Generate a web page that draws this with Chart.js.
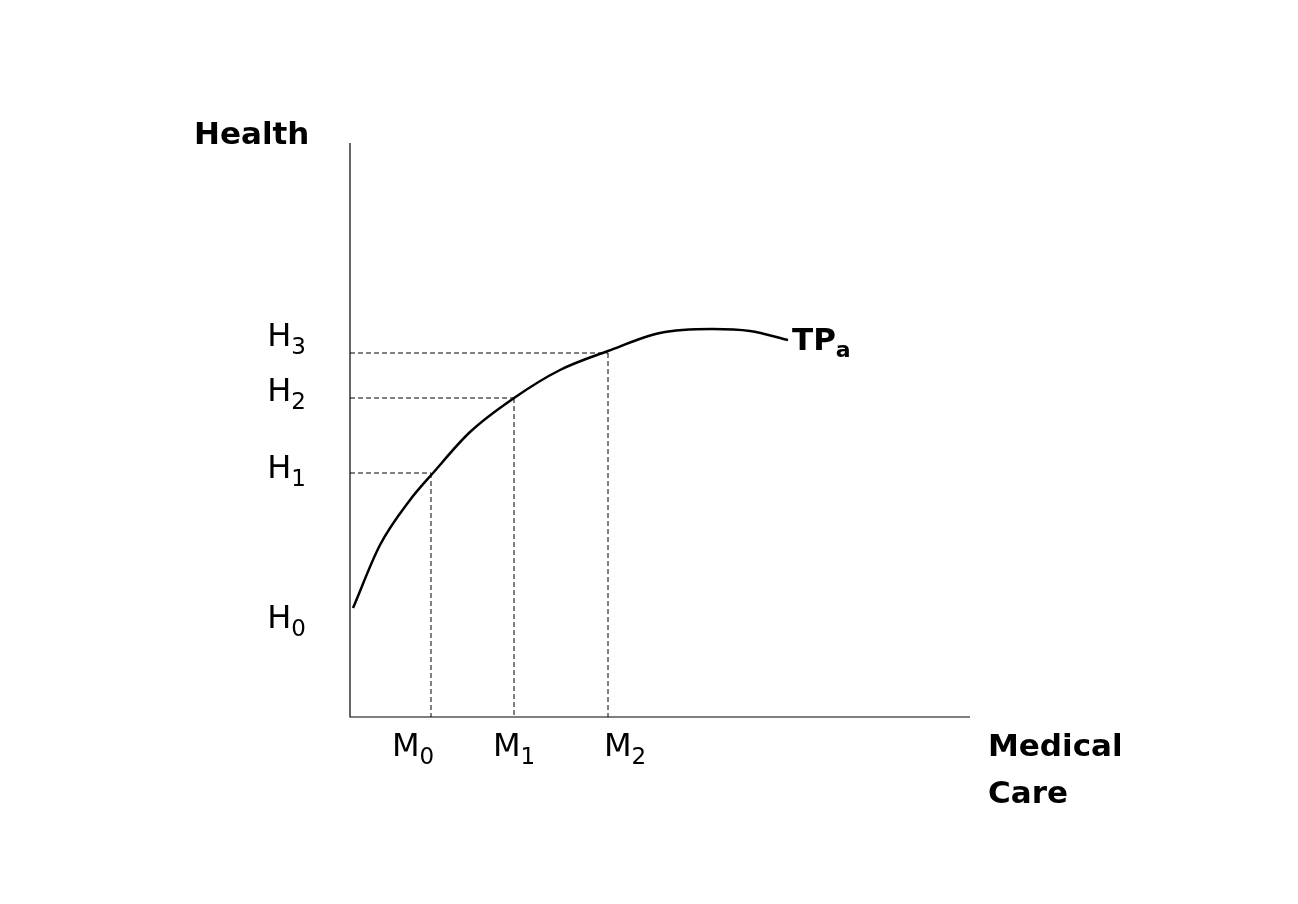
<!DOCTYPE html>
<html><head><meta charset="utf-8">
<script src="https://cdn.jsdelivr.net/npm/chart.js@4"></script>
<style>html,body{margin:0;padding:0;background:#fff}#c{display:block}</style>
</head><body>
<div style="width:1298px;height:904px"><canvas id="c"></canvas></div>
<script>
// Curve TPa (medical care, health) in diagram units
const curveX = [3, 30, 60, 83, 120, 164, 210, 258, 310, 362, 400, 438];
const curveY = [109, 172, 217, 244, 285, 319, 347, 366, 384, 388, 386, 377];
// Reference levels
const mLevels = [81, 164, 258];
const hLevels = [244, 319, 364];
const hLabels = ['H', 'H', 'H', 'H'];
const hSubs = ['0', '1', '2', '3'];
const hLabelY = [97, 247, 324, 379];
const mSubs = ['0', '1', '2'];
const mLabelX = [63, 164, 275];

const FONT = '"DejaVu Sans", Verdana, sans-serif';
function sub(ctx, x, y, main, s, size, bold, align) {
  ctx.font = (bold ? 'bold ' : '') + size + 'px ' + FONT;
  const w1 = ctx.measureText(main).width;
  ctx.font = (bold ? 'bold ' : '') + Math.round(size * 0.72) + 'px ' + FONT;
  const w2 = ctx.measureText(s).width;
  let x0 = align === 'right' ? x - w1 - w2 : align === 'center' ? x - (w1 + w2) / 2 : x;
  ctx.textBaseline = 'middle'; ctx.textAlign = 'left'; ctx.fillStyle = '#000';
  ctx.font = (bold ? 'bold ' : '') + size + 'px ' + FONT;
  ctx.fillText(main, x0, y);
  ctx.font = (bold ? 'bold ' : '') + Math.round(size * 0.72) + 'px ' + FONT;
  ctx.fillText(s, x0 + w1, y + size * 0.3);
}

const deco = {
  id: 'deco',
  beforeDatasetsDraw(chart) {
    const {ctx, scales: {x, y}} = chart;
    ctx.save();
    ctx.strokeStyle = '#000'; ctx.lineWidth = 1.2;
    ctx.beginPath();
    ctx.moveTo(x.getPixelForValue(0), y.getPixelForValue(574));
    ctx.lineTo(x.getPixelForValue(0), y.getPixelForValue(0));
    ctx.lineTo(x.getPixelForValue(620), y.getPixelForValue(0));
    ctx.stroke();
    ctx.setLineDash([5, 3]); ctx.lineWidth = 1;
    for (let i = 0; i < mLevels.length; i++) {
      const px = x.getPixelForValue(mLevels[i]), py = y.getPixelForValue(hLevels[i]);
      ctx.beginPath();
      ctx.moveTo(x.getPixelForValue(0), py); ctx.lineTo(px, py);
      ctx.moveTo(px, py); ctx.lineTo(px, y.getPixelForValue(0));
      ctx.stroke();
    }
    ctx.restore();
  },
  afterDraw(chart) {
    const {ctx, scales: {x, y}} = chart;
    ctx.save();
    ctx.fillStyle = '#000'; ctx.textBaseline = 'middle';
    ctx.font = 'bold 31px ' + FONT; ctx.textAlign = 'left';
    ctx.fillText('Health', 194, 136);
    ctx.fillText('Medical', 988, 748);
    ctx.fillText('Care', 988, 795);
    for (let i = 0; i < hSubs.length; i++)
      sub(ctx, 306, y.getPixelForValue(hLabelY[i]), hLabels[i], hSubs[i], 32, false, 'right');
    for (let i = 0; i < mSubs.length; i++)
      sub(ctx, x.getPixelForValue(mLabelX[i]), 748, 'M', mSubs[i], 32, false, 'center');
    sub(ctx, 792, 342, 'TP', 'a', 31, true, 'left');
    ctx.restore();
  }
};

new Chart(document.getElementById('c'), {
  type: 'line',
  data: { datasets: [{
    data: curveX.map((v, i) => ({x: v, y: curveY[i]})),
    borderColor: '#000', borderWidth: 2.5, pointRadius: 0, fill: false,
    cubicInterpolationMode: 'monotone'
  }]},
  options: {
    responsive: true, maintainAspectRatio: false, animation: false,
    layout: { padding: { left: 350, top: 143, right: 328, bottom: 187 } },
    plugins: { legend: { display: false }, tooltip: { enabled: false } },
    scales: {
      x: { type: 'linear', min: 0, max: 620, display: false },
      y: { min: 0, max: 574, display: false }
    }
  },
  plugins: [deco]
});
</script>
</body></html>
